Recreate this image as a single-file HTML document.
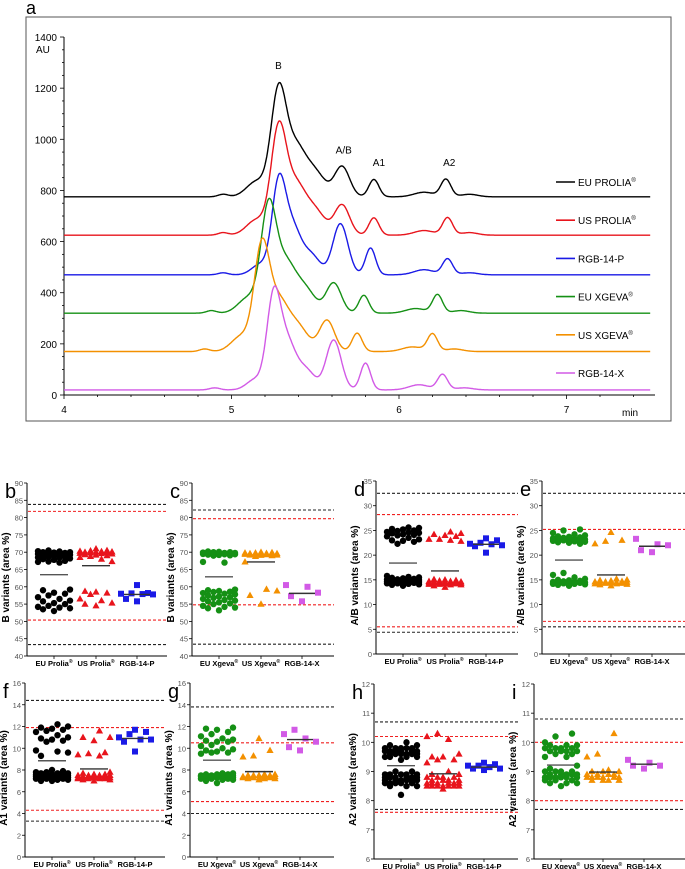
<!DOCTYPE html>
<html><head><meta charset="utf-8"><style>
html,body{margin:0;padding:0;background:#fff;}
svg{display:block;font-family:"Liberation Sans",sans-serif;}
</style></head><body>
<svg id="fig" width="685" height="869" viewBox="0 0 685 869">
<text x="26" y="14" font-size="18">a</text>
<rect x="26" y="17" width="645" height="404" fill="none" stroke="#555" stroke-width="1"/>
<g id="topg"></g>
<g id="panels"></g>
</svg>
<script>
// ===== Chromatogram data =====
const seriesNames = ["EU PROLIA®","US PROLIA®","RGB-14-P","EU XGEVA®","US XGEVA®","RGB-14-X"];
const seriesColors = ["#000","#e8141c","#1a1ae6","#159015","#f39000","#d25ae6"];
const seriesBaselines = [775,625,470,320,170,20];
// peaks: [center(min), height(AU), width(min)]
const peaksEUProlia = [[4.95,10,0.03],[5.15,60,0.06],[5.28,390,0.045],[5.38,190,0.06],[5.5,90,0.06],[5.66,118,0.045],[5.85,68,0.03],[6.15,18,0.06],[6.28,68,0.03],[6.42,10,0.05]];
const peaksUSProlia = [[4.95,10,0.03],[5.15,60,0.06],[5.28,390,0.045],[5.38,190,0.06],[5.5,90,0.06],[5.66,118,0.045],[5.85,68,0.03],[6.15,18,0.06],[6.29,68,0.03],[6.42,10,0.05]];
const peaksRGB14P = [[4.95,8,0.03],[5.17,40,0.05],[5.28,320,0.04],[5.36,190,0.055],[5.48,70,0.05],[5.65,200,0.045],[5.83,105,0.03],[6.15,20,0.06],[6.29,62,0.03],[6.42,8,0.05]];
const peaksEUXgeva = [[4.88,10,0.03],[5.1,60,0.06],[5.22,390,0.045],[5.32,190,0.06],[5.44,90,0.06],[5.61,118,0.045],[5.79,70,0.03],[6.1,18,0.06],[6.23,72,0.03],[6.37,10,0.05]];
const peaksUSXgeva = [[4.84,10,0.03],[5.06,60,0.06],[5.18,385,0.045],[5.28,190,0.06],[5.4,90,0.06],[5.57,122,0.045],[5.75,72,0.03],[6.08,18,0.06],[6.2,68,0.03],[6.33,10,0.05]];
const peaksRGB14X = [[4.9,8,0.03],[5.14,40,0.05],[5.25,330,0.04],[5.33,190,0.055],[5.45,70,0.05],[5.61,195,0.045],[5.8,105,0.03],[6.12,20,0.06],[6.26,60,0.03],[6.39,8,0.05]];
const seriesPeaks = [peaksEUProlia,peaksUSProlia,peaksRGB14P,peaksEUXgeva,peaksUSXgeva,peaksRGB14X];
const yTicksTop = [0,200,400,600,800,1000,1200,1400];
const xTicksTop = [4,5,6,7];
const peakLabels = ["B","A/B","A1","A2"];
const peakLabelPos = [[5.28,1275],[5.67,945],[5.88,895],[6.3,895]];

const NS="http://www.w3.org/2000/svg";
function mk(tag,attrs,parent){const e=document.createElementNS(NS,tag);for(const k in attrs)e.setAttribute(k,attrs[k]);parent.appendChild(e);return e;}
const topG=document.getElementById('topg');
const xT=t=>64+(t-4)*167.5;
const yT=v=>395-v*0.2557;

let ax=mk('line',{x1:64,y1:395,x2:655,y2:395,stroke:'#000','stroke-width':1},topG);


let ay=mk('line',{x1:64,y1:395,x2:64,y2:yT(1400),stroke:'#000','stroke-width':1},topG);


for(let v=0;v<=1400;v+=50){mk('line',{x1:64,y1:yT(v),x2:v%200===0?60:62,y2:yT(v),stroke:'#000','stroke-width':0.8},topG);}
for(let t=4;t<=7.5001;t+=0.2){const major=Math.abs(t-Math.round(t))<1e-6;mk('line',{x1:xT(t),y1:395,x2:xT(t),y2:major?399:397,stroke:'#000','stroke-width':0.8},topG);}
yTicksTop.forEach(v=>{const t=mk('text',{x:57,y:yT(v)+4,'font-size':10,'text-anchor':'end'},topG);t.textContent=v;

});
xTicksTop.forEach(v=>{const t=mk('text',{x:xT(v),y:413,'font-size':10,'text-anchor':'middle'},topG);t.textContent=v;

});
let au=mk('text',{x:36,y:53,'font-size':10},topG);au.textContent='AU';


let mn=mk('text',{x:622,y:416,'font-size':10},topG);mn.textContent='min';


peakLabels.forEach((l,i)=>{const t=mk('text',{x:xT(peakLabelPos[i][0]),y:yT(peakLabelPos[i][1]),'font-size':10,'text-anchor':'middle'},topG);t.textContent=l;

});

seriesNames.forEach((name,i)=>{
  let d='';
  for(let t=4;t<=7.5001;t+=0.005){
    let v=seriesBaselines[i];
    seriesPeaks[i].forEach(p=>{v+=p[1]*Math.exp(-0.5*((t-p[0])/p[2])**2);});
    d+=(d?'L':'M')+xT(t).toFixed(1)+' '+yT(v).toFixed(1);
  }
  const p=mk('path',{d:d,fill:'none',stroke:seriesColors[i],'stroke-width':1.4},topG);
  
  
  const ly=182+i*38.2;
  const ll=mk('line',{x1:556,y1:ly,x2:575,y2:ly,stroke:seriesColors[i],'stroke-width':1.6},topG);
  
  
  const lt=mk('text',{x:578,y:ly+4,'font-size':10},topG);
  lt.innerHTML=name.replace('®','<tspan font-size="6" dy="-4">®</tspan>');
  
  
});

// ===== Scatter panel data =====
const bEU=[67,67.2,67.5,67.8,68,68.2,68.5,68.6,68.8,69,69,69.2,69.3,69.5,69.6,69.8,69.9,70,70,70.2,70.3,70.5,67.3,68.4,53,53.5,53.8,54,54.2,54.5,55,55.3,55.8,56,56.5,57,57.5,58,58.3,59,59.2];
const bUS=[67.3,68,68.5,69,69.2,69.3,69.5,69.6,69.8,70,70,70.1,70.2,70.4,70.5,69.7,69.9,71,68.8,70.3,54.5,55,55.3,56,56.5,57.8,58.2,58.7,58.5];
const bRGB=[55.8,56.5,57.8,57.9,58,58.2,58.1,60.5];
const cEU=[67,67.2,69,69.2,69.3,69.4,69.5,69.5,69.6,69.7,69.8,69.9,70,70,70.2,69.4,69.6,69.8,69.1,70.1,53.2,53.8,54,54.2,54.5,55,55.2,55.5,56,56.2,56.5,57,57.2,57.5,57.8,58,58.2,58.5,58.6,58.8,59,59.2,56.8,55.8];
const cUS=[67.2,68.8,69,69.1,69.2,69.3,69.4,69.5,69.5,69.6,69.7,69.8,69.9,70,69.2,69.4,69.6,69.8,55,57.5,58.8,59.3];
const cRGB=[55.8,57.3,58.3,60,60.5];
const dEU=[22.3,22.7,23,23.2,23.5,23.8,24,24.2,24.4,24.5,24.7,24.9,25,25.2,25.3,25.5,25.6,22.9,24.1,24.6,13.8,14,14.1,14.2,14.3,14.4,14.5,14.5,14.6,14.7,14.8,14.9,15,15,15.1,15.2,15.3,15.4,15.5,15.6,15.8,14.6,14.8,15.1,14.3,14.9];
const dUS=[22.8,23,23.2,23.8,24,24.2,24.4,24.7,23.2,13.5,13.8,14,14,14.1,14.2,14.2,14.3,14.3,14.4,14.4,14.5,14.5,14.6,14.6,14.7,14.8,14.9,15,15.1,14.1,14.4,14.7];
const dRGB=[20.5,21.8,22,22.2,22.5,23,23.4,22.3];
const eEU=[22.3,22.5,22.6,22.8,22.9,23,23,23.1,23.2,23.3,23.4,23.5,23.6,23.7,23.8,24,24.2,24.5,25,25.2,22.7,23.2,13.8,14,14.1,14.2,14.3,14.4,14.4,14.5,14.5,14.6,14.7,14.8,15,15.2,15.5,16,16.4,14.2,14.6,14.9];
const eUS=[22.3,22.8,23,24.6,13.8,14,14.1,14.2,14.3,14.3,14.4,14.5,14.5,14.6,14.7,14.8,15,15.2,14.2,14.4,14.6,14.9];
const eRGB=[20.6,21,22,22.2,23.3];
const fEU=[9.3,9.6,9.7,9.8,10.6,10.8,10.9,11,11.2,11.5,11.6,11.7,11.8,11.9,12,12.2,10.7,7,7,7.1,7.2,7.2,7.3,7.3,7.3,7.4,7.4,7.4,7.5,7.5,7.5,7.6,7.6,7.6,7.7,7.7,7.8,7.8,7.9,8,7.1,7.4,7.5,7.6,7.7,7.2];
const fUS=[9.3,9.5,9.6,10.7,11,11,11.6,9.4,7,7.1,7.1,7.2,7.2,7.2,7.3,7.3,7.3,7.3,7.4,7.4,7.4,7.5,7.5,7.5,7.6,7.6,7.7,7.8,7.2,7.3,7.4,7.5];
const fRGB=[9.7,10.6,10.8,10.8,11,11.3,11.5,11.7];
const gEU=[9.5,9.6,9.7,9.8,9.9,10,10.3,10.6,10.7,10.8,10.9,11.1,11.3,11.5,11.7,11.8,11.9,10.2,9.6,10.6,6.8,7,7.1,7.2,7.2,7.3,7.3,7.4,7.4,7.4,7.5,7.5,7.5,7.6,7.6,7.7,7.7,7.2,7.3,7.4,7.5,7.6,7.1,7.3,7.5];
const gUS=[9.2,9.3,9.8,10.9,7.1,7.2,7.2,7.3,7.3,7.3,7.4,7.4,7.4,7.5,7.5,7.5,7.6,7.6,7.2,7.3,7.4,7.5];
const gRGB=[9.8,10.1,10.6,10.9,11.3,11.7];
const hEU=[9.4,9.5,9.5,9.6,9.6,9.6,9.6,9.7,9.7,9.7,9.7,9.8,9.8,9.8,9.8,9.9,9.9,10,9.5,9.6,9.7,9.8,9.6,9.7,9.5,8.2,8.5,8.5,8.6,8.6,8.6,8.7,8.7,8.7,8.7,8.8,8.8,8.8,8.8,8.9,8.9,8.9,9,9,8.6,8.7,8.8,8.9,8.6,8.7,8.8,8.5,8.9];
const hUS=[9.3,9.4,9.5,9.5,9.4,10.1,10.3,10.2,9.6,8.4,8.5,8.5,8.5,8.5,8.5,8.6,8.6,8.6,8.6,8.7,8.7,8.7,8.8,8.8,8.8,8.9,8.9,9,8.5,8.6,8.7,8.5,8.6,8.8];
const hRGB=[9.05,9.1,9.15,9.2,9.2,9.25,9.3,9.1];
const iEU=[9.5,9.5,9.6,9.7,9.7,9.7,9.8,9.8,9.8,9.9,9.9,9.9,10,10.2,10.3,9.6,9.8,9.7,8.5,8.6,8.6,8.7,8.7,8.8,8.8,8.8,8.8,8.9,8.9,8.9,9,9,9,9.1,9.2,8.7,8.8,8.9,8.6,8.8,8.9,9];
const iUS=[9.5,9.6,10.3,8.7,8.7,8.7,8.8,8.8,8.8,8.8,8.9,8.9,8.9,9,9,9.05,8.8,8.9,8.7,8.8,9];
const iRGB=[9.1,9.2,9.2,9.3,9.4];
const meansB=[63.5,66.1,57.8], meansC=[62.9,67.2,58.1], meansD=[18.4,16.8,22.2], meansE=[19.0,16.0,21.8];
const meansF=[8.85,8.1,10.9], meansG=[8.9,7.85,10.8], meansH=[9.2,8.92,9.15], meansI=[9.22,8.98,9.25];
const refsB=[[83.8,'k'],[81.8,'r'],[50.4,'r'],[43.3,'k']];
const refsC=[[82.2,'k'],[79.7,'r'],[54.8,'r'],[43.4,'k']];
const refsD=[[32.5,'k'],[28.2,'r'],[5.5,'r'],[4.4,'k']];
const refsE=[[32.5,'k'],[25.2,'r'],[6.6,'r'],[5.5,'k']];
const refsF=[[14.4,'k'],[11.9,'r'],[4.3,'r'],[3.3,'k']];
const refsG=[[13.8,'k'],[10.5,'r'],[5.1,'r'],[4.0,'k']];
const refsH=[[10.7,'k'],[10.2,'r'],[7.7,'k'],[7.6,'r']];
const refsI=[[10.8,'k'],[10.0,'r'],[8.0,'r'],[7.7,'k']];
const catsP=["EU Prolia®","US Prolia®","RGB-14-P"];
const catsX=["EU Xgeva®","US Xgeva®","RGB-14-X"];

const panels=[
 {L:'b',x0:27,w:140,y0:483,y1:656,min:40,max:90,step:5,cats:catsP,groups:[bEU,bUS,bRGB],means:meansB,refs:refsB,yl:'B variants (area %)',cols:['#000','#e8141c','#1a1ae6']},
 {L:'c',x0:192,w:142,y0:483,y1:656,min:40,max:90,step:5,cats:catsX,groups:[cEU,cUS,cRGB],means:meansC,refs:refsC,yl:'B variants (area %)',cols:['#159015','#f39000','#d25ae6']},
 {L:'d',x0:376,w:142,y0:481,y1:654,min:0,max:35,step:5,cats:catsP,groups:[dEU,dUS,dRGB],means:meansD,refs:refsD,yl:'A/B variants (area %)',cols:['#000','#e8141c','#1a1ae6']},
 {L:'e',x0:542,w:143,y0:481,y1:654,min:0,max:35,step:5,cats:catsX,groups:[eEU,eUS,eRGB],means:meansE,refs:refsE,yl:'A/B variants (area %)',cols:['#159015','#f39000','#d25ae6']},
 {L:'f',x0:25,w:140,y0:683,y1:857,min:0,max:16,step:2,cats:catsP,groups:[fEU,fUS,fRGB],means:meansF,refs:refsF,yl:'A1 variants (area %)',cols:['#000','#e8141c','#1a1ae6']},
 {L:'g',x0:190,w:144,y0:683,y1:857,min:0,max:16,step:2,cats:catsX,groups:[gEU,gUS,gRGB],means:meansG,refs:refsG,yl:'A1 variants (area %)',cols:['#159015','#f39000','#d25ae6']},
 {L:'h',x0:374,w:144,y0:684,y1:859,min:6,max:12,step:1,cats:catsP,groups:[hEU,hUS,hRGB],means:meansH,refs:refsH,yl:'A2 variants (area%)',cols:['#000','#e8141c','#1a1ae6']},
 {L:'i',x0:534,w:151,y0:684,y1:859,min:6,max:12,step:1,cats:catsX,groups:[iEU,iUS,iRGB],means:meansI,refs:refsI,yl:'A2 variants (area %)',cols:['#159015','#f39000','#d25ae6']}
];
const catOffsets=[27,69,110];
const shapes=['circle','triangle','square'];
const host=document.getElementById('panels');

function swarm(ys){
  // greedy beeswarm: returns x offsets
  const placed=[];const out=[];
  const slots=[0,-5.5,5.5,-11,11,-16,16];
  ys.forEach((py,idx)=>{
    let best=null,bestC=1e9;
    for(const s of slots){
      let c=0;
      placed.forEach(p=>{const dx=p[0]-s,dy=p[1]-py;if(dx*dx+dy*dy<30)c++;});
      if(c===0){best=s;break;}
      if(c<bestC){bestC=c;best=s;}
    }
    if(bestC>0&&best!==null&&placed.length){ best=slots[(idx*3)%slots.length]; }
    placed.push([best,py]);out.push(best);
  });
  return out;
}

panels.forEach(P=>{
  const g=mk('g',{},host);
  
  
  const y=v=>P.y1-(v-P.min)/(P.max-P.min)*(P.y1-P.y0);
  const lt=mk('text',{x:P.x0-22,y:P.y0+15,'font-size':20},g);lt.textContent=P.L;
  
  
  mk('line',{x1:P.x0,y1:P.y0,x2:P.x0,y2:P.y1,stroke:'#000','stroke-width':1},g);
  mk('line',{x1:P.x0,y1:P.y1,x2:P.x0+P.w,y2:P.y1,stroke:'#000','stroke-width':1},g);
  for(let v=P.min;v<=P.max+1e-6;v+=P.step){
    mk('line',{x1:P.x0-3,y1:y(v),x2:P.x0,y2:y(v),stroke:'#000','stroke-width':0.8},g);
    const t=mk('text',{x:P.x0-4,y:y(v)+3,'font-size':7.5,'text-anchor':'end',fill:'#555'},g);t.textContent=v;
    
    
  }
  const yl=mk('text',{x:0,y:0,'font-size':10,'font-weight':'bold','text-anchor':'middle',transform:`translate(${P.x0-18},${(P.y0+P.y1)/2+8}) rotate(-90)`},g);
  yl.textContent=P.yl;
  
  
  P.refs.forEach(r=>{const l=mk('line',{x1:P.x0+1,y1:y(r[0]),x2:P.x0+P.w,y2:y(r[0]),stroke:r[1]==='k'?'#222':'#f02020','stroke-width':1.1,'stroke-dasharray':'3 2'},g);
    
    });
  P.cats.forEach((c,ci)=>{
    const cx=P.x0+catOffsets[ci];
    mk('line',{x1:cx,y1:P.y1,x2:cx,y2:P.y1+3,stroke:'#000','stroke-width':0.8},g);
    const t=mk('text',{x:cx,y:P.y1+10,'font-size':7.5,'font-weight':'bold','text-anchor':'middle'},g);
    t.innerHTML=c.replace('®','<tspan font-size="5" dy="-3">®</tspan>');
    
    
    const vals=P.groups[ci].slice().sort((a,b)=>a-b);
    const pys=vals.map(v=>y(v));
    const offs=swarm(pys);
    const col=P.cols[ci];
    vals.forEach((v,j)=>{
      const px=cx+offs[j], py=pys[j];
      let m;
      if(shapes[ci]==='circle') m=mk('circle',{cx:px,cy:py,r:3.2,fill:col},g);
      else if(shapes[ci]==='triangle') m=mk('polygon',{points:`${px},${py-3.8} ${px-3.6},${py+2.6} ${px+3.6},${py+2.6}`,fill:col},g);
      else m=mk('rect',{x:px-3,y:py-3,width:6,height:6,fill:col},g);
      
      
    });
    const half=ci===2?13:14;
    const ml=mk('line',{x1:cx-half,y1:y(P.means[ci]),x2:cx+half,y2:y(P.means[ci]),stroke:ci===0?'#555':'#333','stroke-width':1.4},g);
    
    
  });
});
</script>
</body></html>
